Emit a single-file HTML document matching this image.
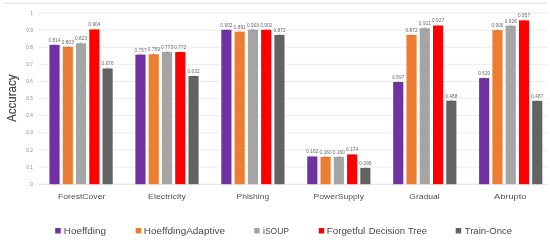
<!DOCTYPE html><html><head><meta charset="utf-8"><title>Accuracy</title><style>html,body{margin:0;padding:0;background:#fff}svg{display:block}text{font-family:"Liberation Sans",sans-serif}</style></head><body>
<svg width="550" height="240" viewBox="0 0 550 240">
<rect width="550" height="240" fill="#fff"/>
<defs><filter id="soft" x="0" y="0" width="550" height="240" filterUnits="userSpaceOnUse"><feGaussianBlur stdDeviation="0.4"/></filter></defs>
<g filter="url(#soft)">
<line x1="3.8" y1="3.15" x2="547" y2="3.15" stroke="#DADADA" stroke-width="0.9"/>
<line x1="38.15" y1="184.20" x2="547.3" y2="184.20" stroke="#D0D0D0" stroke-width="0.7"/>
<line x1="38.15" y1="167.08" x2="547.3" y2="167.08" stroke="#E4E4E4" stroke-width="0.7"/>
<line x1="38.15" y1="149.96" x2="547.3" y2="149.96" stroke="#E4E4E4" stroke-width="0.7"/>
<line x1="38.15" y1="132.84" x2="547.3" y2="132.84" stroke="#E4E4E4" stroke-width="0.7"/>
<line x1="38.15" y1="115.72" x2="547.3" y2="115.72" stroke="#E4E4E4" stroke-width="0.7"/>
<line x1="38.15" y1="98.60" x2="547.3" y2="98.60" stroke="#E4E4E4" stroke-width="0.7"/>
<line x1="38.15" y1="81.48" x2="547.3" y2="81.48" stroke="#E4E4E4" stroke-width="0.7"/>
<line x1="38.15" y1="64.36" x2="547.3" y2="64.36" stroke="#E4E4E4" stroke-width="0.7"/>
<line x1="38.15" y1="47.24" x2="547.3" y2="47.24" stroke="#E4E4E4" stroke-width="0.7"/>
<line x1="38.15" y1="30.12" x2="547.3" y2="30.12" stroke="#E4E4E4" stroke-width="0.7"/>
<line x1="38.15" y1="13.00" x2="547.3" y2="13.00" stroke="#E4E4E4" stroke-width="0.7"/>
<rect x="49.45" y="44.84" width="10.15" height="139.36" fill="#7030A0"/>
<path d="M54.53 44.04V45.64M52.93 44.04h3.2M52.93 45.64h3.2" stroke="#444" stroke-width="0.3" fill="none" opacity="0.45"/>
<rect x="62.72" y="46.73" width="10.15" height="137.47" fill="#ED7D31"/>
<path d="M67.80 45.93V47.53M66.20 45.93h3.2M66.20 47.53h3.2" stroke="#444" stroke-width="0.3" fill="none" opacity="0.45"/>
<rect x="75.99" y="43.30" width="10.15" height="140.90" fill="#A5A5A5"/>
<path d="M81.07 42.50V44.10M79.47 42.50h3.2M79.47 44.10h3.2" stroke="#444" stroke-width="0.3" fill="none" opacity="0.45"/>
<rect x="89.26" y="29.44" width="10.15" height="154.76" fill="#FF0000"/>
<path d="M94.34 28.64V30.24M92.74 28.64h3.2M92.74 30.24h3.2" stroke="#444" stroke-width="0.3" fill="none" opacity="0.45"/>
<rect x="102.53" y="68.47" width="10.15" height="115.73" fill="#636363"/>
<path d="M107.61 67.67V69.27M106.01 67.67h3.2M106.01 69.27h3.2" stroke="#444" stroke-width="0.3" fill="none" opacity="0.45"/>
<text x="58.01" y="198.7" font-size="7.8" fill="#525252" textLength="47.33" lengthAdjust="spacingAndGlyphs">ForestCover</text>
<rect x="135.38" y="54.60" width="10.15" height="129.60" fill="#7030A0"/>
<path d="M140.46 53.80V55.40M138.86 53.80h3.2M138.86 55.40h3.2" stroke="#444" stroke-width="0.3" fill="none" opacity="0.45"/>
<rect x="148.65" y="54.26" width="10.15" height="129.94" fill="#ED7D31"/>
<path d="M153.73 53.46V55.06M152.13 53.46h3.2M152.13 55.06h3.2" stroke="#444" stroke-width="0.3" fill="none" opacity="0.45"/>
<rect x="161.92" y="51.86" width="10.15" height="132.34" fill="#A5A5A5"/>
<path d="M167.00 51.06V52.66M165.40 51.06h3.2M165.40 52.66h3.2" stroke="#444" stroke-width="0.3" fill="none" opacity="0.45"/>
<rect x="175.19" y="52.03" width="10.15" height="132.17" fill="#FF0000"/>
<path d="M180.27 51.23V52.83M178.67 51.23h3.2M178.67 52.83h3.2" stroke="#444" stroke-width="0.3" fill="none" opacity="0.45"/>
<rect x="188.46" y="76.00" width="10.15" height="108.20" fill="#636363"/>
<path d="M193.54 75.20V76.80M191.94 75.20h3.2M191.94 76.80h3.2" stroke="#444" stroke-width="0.3" fill="none" opacity="0.45"/>
<text x="148.0" y="198.7" font-size="7.8" fill="#525252" textLength="37.91" lengthAdjust="spacingAndGlyphs">Electricity</text>
<rect x="221.31" y="29.78" width="10.15" height="154.42" fill="#7030A0"/>
<path d="M226.39 28.98V30.58M224.79 28.98h3.2M224.79 30.58h3.2" stroke="#444" stroke-width="0.3" fill="none" opacity="0.45"/>
<rect x="234.58" y="31.66" width="10.15" height="152.54" fill="#ED7D31"/>
<path d="M239.66 30.86V32.46M238.06 30.86h3.2M238.06 32.46h3.2" stroke="#444" stroke-width="0.3" fill="none" opacity="0.45"/>
<rect x="247.85" y="29.61" width="10.15" height="154.59" fill="#A5A5A5"/>
<path d="M252.93 28.81V30.41M251.33 28.81h3.2M251.33 30.41h3.2" stroke="#444" stroke-width="0.3" fill="none" opacity="0.45"/>
<rect x="261.12" y="29.78" width="10.15" height="154.42" fill="#FF0000"/>
<path d="M266.19 28.98V30.58M264.59 28.98h3.2M264.59 30.58h3.2" stroke="#444" stroke-width="0.3" fill="none" opacity="0.45"/>
<rect x="274.39" y="34.91" width="10.15" height="149.29" fill="#636363"/>
<path d="M279.47 34.11V35.71M277.87 34.11h3.2M277.87 35.71h3.2" stroke="#444" stroke-width="0.3" fill="none" opacity="0.45"/>
<text x="236.64" y="198.7" font-size="7.8" fill="#525252" textLength="32.49" lengthAdjust="spacingAndGlyphs">Phishing</text>
<rect x="307.24" y="156.47" width="10.15" height="27.73" fill="#7030A0"/>
<path d="M312.31 155.67V157.27M310.71 155.67h3.2M310.71 157.27h3.2" stroke="#444" stroke-width="0.3" fill="none" opacity="0.45"/>
<rect x="320.51" y="156.81" width="10.15" height="27.39" fill="#ED7D31"/>
<path d="M325.58 156.01V157.61M323.98 156.01h3.2M323.98 157.61h3.2" stroke="#444" stroke-width="0.3" fill="none" opacity="0.45"/>
<rect x="333.78" y="156.81" width="10.15" height="27.39" fill="#A5A5A5"/>
<path d="M338.86 156.01V157.61M337.25 156.01h3.2M337.25 157.61h3.2" stroke="#444" stroke-width="0.3" fill="none" opacity="0.45"/>
<rect x="347.05" y="154.41" width="10.15" height="29.79" fill="#FF0000"/>
<path d="M352.12 153.61V155.21M350.52 153.61h3.2M350.52 155.21h3.2" stroke="#444" stroke-width="0.3" fill="none" opacity="0.45"/>
<rect x="360.32" y="167.94" width="10.15" height="16.26" fill="#636363"/>
<path d="M365.39 167.14V168.74M363.79 167.14h3.2M363.79 168.74h3.2" stroke="#444" stroke-width="0.3" fill="none" opacity="0.45"/>
<text x="313.58" y="198.7" font-size="7.8" fill="#525252" textLength="50.47" lengthAdjust="spacingAndGlyphs">PowerSupply</text>
<rect x="393.17" y="81.99" width="10.15" height="102.21" fill="#7030A0"/>
<path d="M398.25 81.19V82.79M396.64 81.19h3.2M396.64 82.79h3.2" stroke="#444" stroke-width="0.3" fill="none" opacity="0.45"/>
<rect x="406.44" y="34.91" width="10.15" height="149.29" fill="#ED7D31"/>
<path d="M411.51 34.11V35.71M409.91 34.11h3.2M409.91 35.71h3.2" stroke="#444" stroke-width="0.3" fill="none" opacity="0.45"/>
<rect x="419.71" y="28.24" width="10.15" height="155.96" fill="#A5A5A5"/>
<path d="M424.79 27.44V29.04M423.19 27.44h3.2M423.19 29.04h3.2" stroke="#444" stroke-width="0.3" fill="none" opacity="0.45"/>
<rect x="432.98" y="25.50" width="10.15" height="158.70" fill="#FF0000"/>
<path d="M438.06 24.70V26.30M436.45 24.70h3.2M436.45 26.30h3.2" stroke="#444" stroke-width="0.3" fill="none" opacity="0.45"/>
<rect x="446.25" y="100.65" width="10.15" height="83.55" fill="#636363"/>
<path d="M451.32 99.85V101.45M449.72 99.85h3.2M449.72 101.45h3.2" stroke="#444" stroke-width="0.3" fill="none" opacity="0.45"/>
<text x="409.3" y="198.7" font-size="7.8" fill="#525252" textLength="30.48" lengthAdjust="spacingAndGlyphs">Gradual</text>
<rect x="479.10" y="78.06" width="10.15" height="106.14" fill="#7030A0"/>
<path d="M484.18 77.26V78.86M482.57 77.26h3.2M482.57 78.86h3.2" stroke="#444" stroke-width="0.3" fill="none" opacity="0.45"/>
<rect x="492.37" y="30.12" width="10.15" height="154.08" fill="#ED7D31"/>
<path d="M497.44 29.32V30.92M495.84 29.32h3.2M495.84 30.92h3.2" stroke="#444" stroke-width="0.3" fill="none" opacity="0.45"/>
<rect x="505.64" y="25.67" width="10.15" height="158.53" fill="#A5A5A5"/>
<path d="M510.72 24.87V26.47M509.12 24.87h3.2M509.12 26.47h3.2" stroke="#444" stroke-width="0.3" fill="none" opacity="0.45"/>
<rect x="518.91" y="20.36" width="10.15" height="163.84" fill="#FF0000"/>
<path d="M523.99 19.56V21.16M522.39 19.56h3.2M522.39 21.16h3.2" stroke="#444" stroke-width="0.3" fill="none" opacity="0.45"/>
<rect x="532.18" y="100.83" width="10.15" height="83.37" fill="#636363"/>
<path d="M537.26 100.03V101.63M535.66 100.03h3.2M535.66 101.63h3.2" stroke="#444" stroke-width="0.3" fill="none" opacity="0.45"/>
<text x="493.95" y="198.7" font-size="7.8" fill="#525252" textLength="32.6" lengthAdjust="spacingAndGlyphs">Abrupto</text>
<text transform="translate(16.2 98.2) rotate(-90)" font-size="12.1" fill="#484848" stroke="#484848" stroke-width="0.2" text-anchor="middle" textLength="47.50" lengthAdjust="spacingAndGlyphs">Accuracy</text>
<rect x="55.2" y="228.0" width="5.5" height="5.5" fill="#7030A0"/>
<text x="63.81" y="233.6" font-size="9.3" fill="#484848" textLength="42.14" lengthAdjust="spacingAndGlyphs">Hoeffding</text>
<rect x="135.7" y="228.0" width="5.5" height="5.5" fill="#ED7D31"/>
<text x="143.82" y="233.6" font-size="9.3" fill="#484848" textLength="81.1" lengthAdjust="spacingAndGlyphs">HoeffdingAdaptive</text>
<rect x="254.2" y="228.0" width="5.5" height="5.5" fill="#A5A5A5"/>
<text x="263.0" y="233.6" font-size="9.3" fill="#484848" textLength="25.98" lengthAdjust="spacingAndGlyphs">iSOUP</text>
<rect x="318.7" y="228.0" width="5.5" height="5.5" fill="#FF0000"/>
<text x="326.89" y="233.6" font-size="9.3" fill="#484848" textLength="38.36" lengthAdjust="spacingAndGlyphs">Forgetful</text> <text x="368.72" y="233.6" font-size="9.3" fill="#484848" textLength="36.24" lengthAdjust="spacingAndGlyphs">Decision</text> <text x="407.9" y="233.6" font-size="9.3" fill="#484848" textLength="19.05" lengthAdjust="spacingAndGlyphs">Tree</text>
<rect x="455.7" y="228.0" width="5.5" height="5.5" fill="#636363"/>
<text x="464.66" y="233.6" font-size="9.3" fill="#484848" textLength="47.47" lengthAdjust="spacingAndGlyphs">Train-Once</text>
</g>
<text x="32.9" y="185.80" font-size="4.7" fill="#8a8a8a" text-anchor="end">0</text>
<text x="32.9" y="168.68" font-size="4.7" fill="#8a8a8a" text-anchor="end">0.1</text>
<text x="32.9" y="151.56" font-size="4.7" fill="#8a8a8a" text-anchor="end">0.2</text>
<text x="32.9" y="134.44" font-size="4.7" fill="#8a8a8a" text-anchor="end">0.3</text>
<text x="32.9" y="117.32" font-size="4.7" fill="#8a8a8a" text-anchor="end">0.4</text>
<text x="32.9" y="100.20" font-size="4.7" fill="#8a8a8a" text-anchor="end">0.5</text>
<text x="32.9" y="83.08" font-size="4.7" fill="#8a8a8a" text-anchor="end">0.6</text>
<text x="32.9" y="65.96" font-size="4.7" fill="#8a8a8a" text-anchor="end">0.7</text>
<text x="32.9" y="48.84" font-size="4.7" fill="#8a8a8a" text-anchor="end">0.8</text>
<text x="32.9" y="31.72" font-size="4.7" fill="#8a8a8a" text-anchor="end">0.9</text>
<text x="32.9" y="14.60" font-size="4.7" fill="#8a8a8a" text-anchor="end">1</text>
<text x="54.53" y="41.74" font-size="4.7" fill="#686868" text-anchor="middle" textLength="12.08" lengthAdjust="spacing">0.814</text>
<text x="67.80" y="43.63" font-size="4.7" fill="#686868" text-anchor="middle" textLength="12.08" lengthAdjust="spacing">0.803</text>
<text x="81.07" y="40.20" font-size="4.7" fill="#686868" text-anchor="middle" textLength="12.08" lengthAdjust="spacing">0.823</text>
<text x="94.34" y="26.34" font-size="4.7" fill="#686868" text-anchor="middle" textLength="12.08" lengthAdjust="spacing">0.904</text>
<text x="107.61" y="65.37" font-size="4.7" fill="#686868" text-anchor="middle" textLength="12.08" lengthAdjust="spacing">0.676</text>
<text x="140.46" y="51.50" font-size="4.7" fill="#686868" text-anchor="middle" textLength="12.08" lengthAdjust="spacing">0.757</text>
<text x="153.73" y="51.16" font-size="4.7" fill="#686868" text-anchor="middle" textLength="12.08" lengthAdjust="spacing">0.759</text>
<text x="167.00" y="48.76" font-size="4.7" fill="#686868" text-anchor="middle" textLength="12.08" lengthAdjust="spacing">0.773</text>
<text x="180.27" y="48.93" font-size="4.7" fill="#686868" text-anchor="middle" textLength="12.08" lengthAdjust="spacing">0.772</text>
<text x="193.54" y="72.90" font-size="4.7" fill="#686868" text-anchor="middle" textLength="12.08" lengthAdjust="spacing">0.632</text>
<text x="226.39" y="26.68" font-size="4.7" fill="#686868" text-anchor="middle" textLength="12.08" lengthAdjust="spacing">0.902</text>
<text x="239.66" y="28.56" font-size="4.7" fill="#686868" text-anchor="middle" textLength="12.08" lengthAdjust="spacing">0.891</text>
<text x="252.93" y="26.51" font-size="4.7" fill="#686868" text-anchor="middle" textLength="12.08" lengthAdjust="spacing">0.903</text>
<text x="266.19" y="26.68" font-size="4.7" fill="#686868" text-anchor="middle" textLength="12.08" lengthAdjust="spacing">0.902</text>
<text x="279.47" y="31.81" font-size="4.7" fill="#686868" text-anchor="middle" textLength="12.08" lengthAdjust="spacing">0.872</text>
<text x="312.31" y="153.37" font-size="4.7" fill="#686868" text-anchor="middle" textLength="12.08" lengthAdjust="spacing">0.162</text>
<text x="325.58" y="153.71" font-size="4.7" fill="#686868" text-anchor="middle" textLength="12.08" lengthAdjust="spacing">0.160</text>
<text x="338.86" y="153.71" font-size="4.7" fill="#686868" text-anchor="middle" textLength="12.08" lengthAdjust="spacing">0.160</text>
<text x="352.12" y="151.31" font-size="4.7" fill="#686868" text-anchor="middle" textLength="12.08" lengthAdjust="spacing">0.174</text>
<text x="365.39" y="164.84" font-size="4.7" fill="#686868" text-anchor="middle" textLength="12.08" lengthAdjust="spacing">0.095</text>
<text x="398.25" y="78.89" font-size="4.7" fill="#686868" text-anchor="middle" textLength="12.08" lengthAdjust="spacing">0.597</text>
<text x="411.51" y="31.81" font-size="4.7" fill="#686868" text-anchor="middle" textLength="12.08" lengthAdjust="spacing">0.872</text>
<text x="424.79" y="25.14" font-size="4.7" fill="#686868" text-anchor="middle" textLength="12.08" lengthAdjust="spacing">0.911</text>
<text x="438.06" y="22.40" font-size="4.7" fill="#686868" text-anchor="middle" textLength="12.08" lengthAdjust="spacing">0.927</text>
<text x="451.32" y="97.55" font-size="4.7" fill="#686868" text-anchor="middle" textLength="12.08" lengthAdjust="spacing">0.488</text>
<text x="484.18" y="74.96" font-size="4.7" fill="#686868" text-anchor="middle" textLength="12.08" lengthAdjust="spacing">0.620</text>
<text x="497.44" y="27.02" font-size="4.7" fill="#686868" text-anchor="middle" textLength="12.08" lengthAdjust="spacing">0.900</text>
<text x="510.72" y="22.57" font-size="4.7" fill="#686868" text-anchor="middle" textLength="12.08" lengthAdjust="spacing">0.926</text>
<text x="523.99" y="17.26" font-size="4.7" fill="#686868" text-anchor="middle" textLength="12.08" lengthAdjust="spacing">0.957</text>
<text x="537.26" y="97.73" font-size="4.7" fill="#686868" text-anchor="middle" textLength="12.08" lengthAdjust="spacing">0.487</text>
</svg></body></html>
